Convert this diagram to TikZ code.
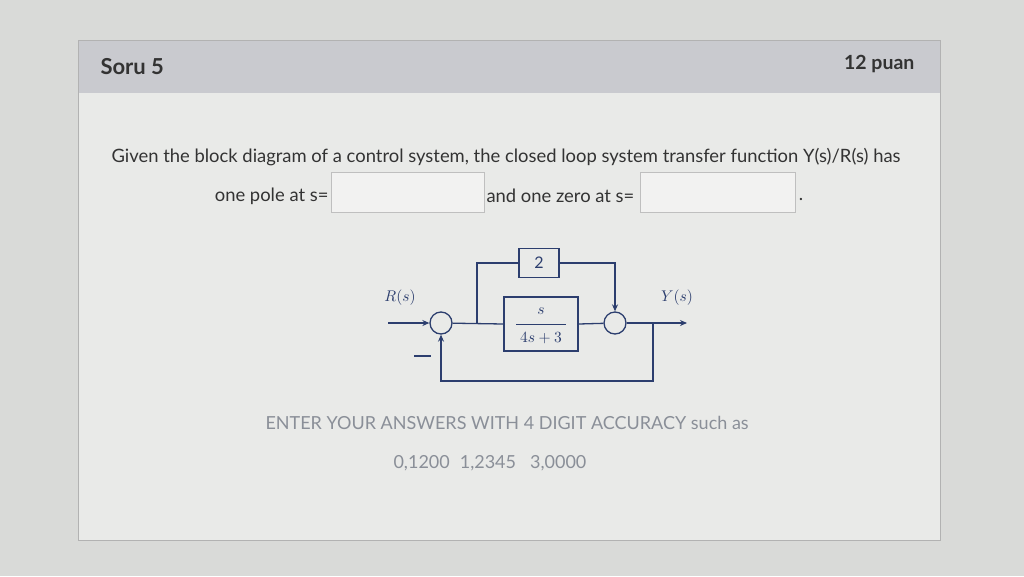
\documentclass[tikz,border=0pt]{standalone}
\usepackage{fontspec}
\setmainfont{Lato}
\usetikzlibrary{arrows.meta}
\definecolor{bg}{HTML}{D9DAD8}
\definecolor{panel}{HTML}{E9EAE8}
\definecolor{head}{HTML}{C9CACF}
\definecolor{dblue}{HTML}{2C3E6E}
\definecolor{txt}{HTML}{333333}
\definecolor{faint}{HTML}{8A8F98}
\newcommand{\diagmath}[1]{\scalebox{1.55}{$#1$}}
\tikzset{
 blk/.style={draw=dblue,line width=1.3pt,fill=panel,inner sep=0pt},
 sumc/.style={draw=dblue,line width=1.3pt,circle,minimum size=22pt,inner sep=0pt},
 ln/.style={dblue,line width=1.3pt},
 arr/.style={ln,-{Stealth[length=7pt,width=6pt]}},
 ansbox/.style={draw=gray!50,fill=panel!60!white,inner sep=0pt},
 body/.style={font=\fontsize{18.4}{22}\selectfont,text=txt}
}
\begin{document}
\begin{tikzpicture}[x=1pt,y=-1pt]
\useasboundingbox (0,0) rectangle (1024,576);
\fill[bg] (0,0) rectangle (1024,576);
\fill[panel] (78,40) rectangle (940,540);
\fill[head] (78,40) rectangle (940,93);
\draw[gray!60] (78,40) rectangle (940,540);
\node[anchor=west,font=\fontsize{22}{26}\selectfont\bfseries,text=txt] (title) at (97,67) {Soru 5};
\node[anchor=east,font=\fontsize{19.5}{24}\selectfont\bfseries,text=txt] (pts) at (918,64) {12 puan};
\node[anchor=west,body] (q) at (108,157) {Given the block diagram of a control system, the closed loop system transfer function Y(s)/R(s) has};
\node[anchor=east,body] (pole) at (332,196) {one pole at s=};
\node[ansbox,minimum width=153pt,minimum height=40pt,anchor=west] (b1) at (331,192) {};
\node[anchor=west,body] (zero) at (483,196) {and one zero at s=};
\node[ansbox,minimum width=155pt,minimum height=40pt,anchor=west] (b2) at (640,192) {};
\node[body] (dot) at (801,199) {.};
% diagram
\node[sumc] (s1) at (441,323) {};
\node[sumc] (s2) at (615,323) {};
\node[blk,minimum width=74pt,minimum height=54pt] (g) at (541,324) {};
\node[text=dblue] (gn) at (541,311) {\diagmath{s}};
\node[text=dblue] (gd) at (541,338) {\diagmath{4s+3}};
\draw[dblue,line width=1pt] (516,324) -- (566,324);
\node[blk,minimum width=40pt,minimum height=29pt] (k) at (539,263) {\fontsize{16}{18}\selectfont\color{dblue}2};
\coordinate (in) at (388,323);
\coordinate (br) at (477,323);
\coordinate (tk) at (653,323);
\coordinate (out) at (687,323);
\draw[arr] (in) -- (s1);
\draw[ln] (s1) -- (g.west);
\draw[ln] (g.east) -- (s2);
\draw[arr] (s2) -- (out);
\draw[ln] (br) |- (k.west);
\draw[arr] (k.east) -| (s2.north);
\draw[arr] (tk) |- (441,381) -- (s1.south);
\draw[ln] (414,356) -- (431,356);
\node[text=dblue] (R) at (400,298) {\diagmath{R(s)}};
\node[text=dblue] (Y) at (677,298) {\diagmath{Y(s)}};
\node[anchor=west,font=\fontsize{18}{22}\selectfont,text=faint] (enter) at (262,423) {ENTER YOUR ANSWERS WITH 4 DIGIT ACCURACY such as};
\node[anchor=west,font=\fontsize{18}{22}\selectfont,text=faint] (ex) at (390,463) {0,1200\hspace{10pt}1,2345\hspace{14pt}3,0000};
\end{tikzpicture}
\end{document}
